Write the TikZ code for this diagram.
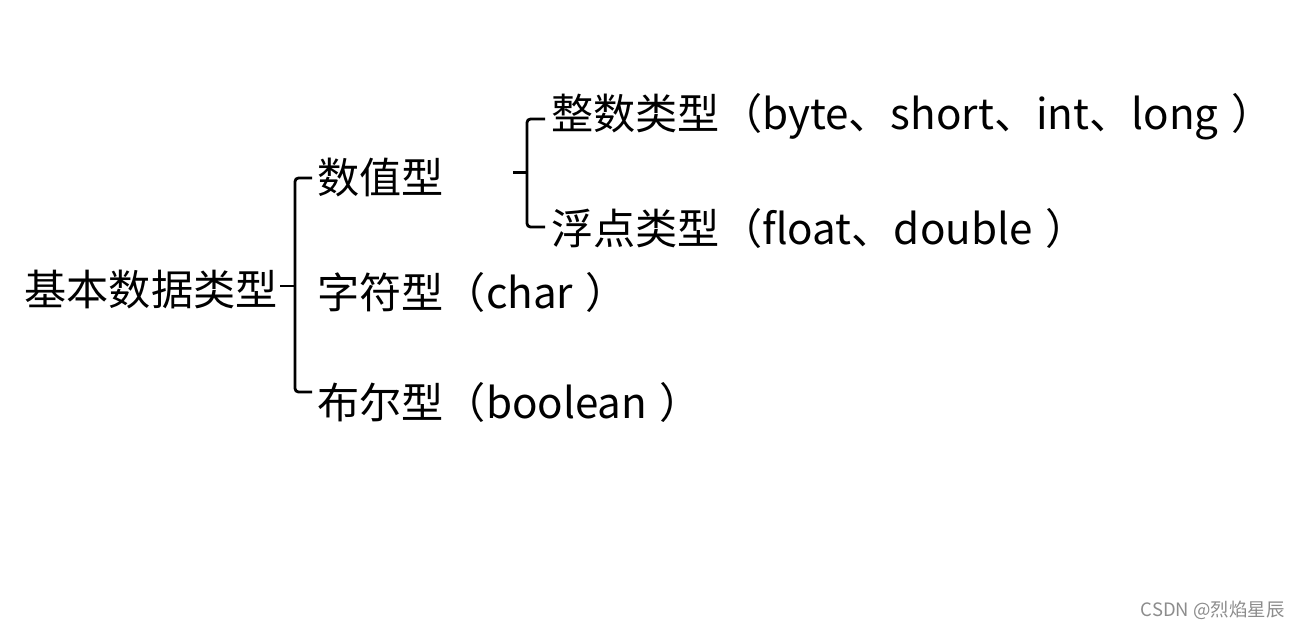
\documentclass[tikz,border=0pt]{standalone}
\usepackage{fontspec}
\setmainfont{Noto Sans CJK SC}
\usepackage{tikz}
\usetikzlibrary{positioning, calc}
\newcommand{\rp}{\hspace{0.3em}）}
\tikzset{
x=0.02cm, y=-0.02cm,
item/.style={%
    anchor=west,
    inner sep=0pt,
    font=\fontsize{24pt}{28pt}\selectfont,
    text=black
},
brace/.style={%
    draw=black,
    line width=1.6pt,
    rounded corners=2pt
},
tick/.style={draw=black, line width=1.6pt},
watermark/.style={text=black!45, font=\fontsize{10.5pt}{12pt}\selectfont, inner sep=0pt},
}

\begin{document}
\begin{tikzpicture}
	\useasboundingbox (0,0) rectangle (1300,630);
	\node[item, anchor=east] (root) at (278,290) {基本数据类型};
	\node[item] (num) at (317,178) {数值型};
	\node[item] (chr) at (317,292) {字符型（char\rp};
	\node[item] (bool) at (317,402) {布尔型（boolean\rp};
	\node[item] (int) at (551,117) {整数类型（byte、short、int、long\rp};
	\node[item] (flt) at (551,228) {浮点类型（float、double\rp};
	\node[watermark, anchor=east] (csdn) at (1285,610) {CSDN @烈焰星辰};

	% first level
	\draw[brace] ($(num.west)+(-5,0)$) -- ++(-17,0) |- ($(bool.west)+(-5,-10)$);
	\draw[tick] ($(root.east)+(17,-4)$) -- ($(root.east)+(2,-4)$);

	% second level
	\draw[brace] ($(int.west)+(-6,2)$) -- ++(-18,0) |- ($(flt.west)+(-6,-1)$);
	\draw[tick] ($(int.west)!.5!(flt.west)+(-24,0)$) -- ++(-14,0);
\end{tikzpicture}
\end{document}
